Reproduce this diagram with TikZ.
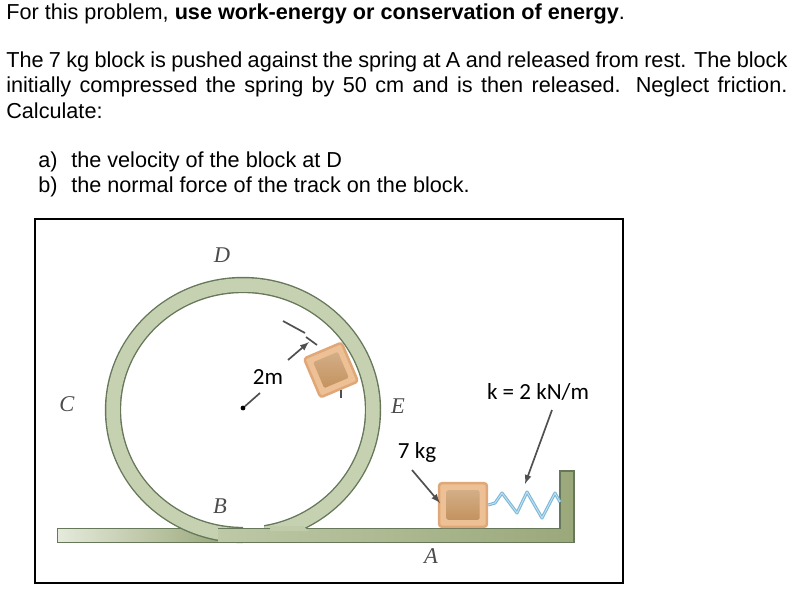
\documentclass[tikz,border=0pt]{standalone}
\usepackage{fontspec}
\setmainfont{Liberation Sans}
\newfontfamily\figfont{Liberation Serif}
\newfontfamily\notefont{Carlito}
\usepackage{tikz}
\definecolor{trackline}{HTML}{66775A}
\definecolor{trackfill}{HTML}{C6D1B2}
\definecolor{wallfill}{HTML}{9AA87A}
\definecolor{blockedge}{HTML}{E0A878}
\definecolor{blockring}{HTML}{EDC095}
\definecolor{blockcore}{HTML}{C4935F}
\definecolor{springblue}{HTML}{7DB9DA}
\definecolor{springpale}{HTML}{C9E2F0}
\definecolor{leader}{HTML}{505050}
\tikzset{
  prose/.style={anchor=base west,inner sep=0pt,font=\fontsize{15.4}{17.8}\selectfont},
  pointlabel/.style={inner sep=0pt,text=black!70,font=\figfont\itshape\fontsize{16}{16}\selectfont},
  notelabel/.style={inner sep=0pt,font=\notefont\fontsize{16.4}{16.4}\selectfont},
  blockouter/.style={draw=blockedge,line width=1.8pt,fill=blockring,rounded corners=2pt},
  blockinner/.style={top color=blockcore!75!white,bottom color=blockcore,rounded corners=1pt},
  leaderline/.style={leader,line width=1.2pt},
}
\begin{document}
\begin{tikzpicture}[x=0.025cm,y=-0.025cm]
\useasboundingbox (0,0) rectangle (804,604);
% problem text
\node[prose] (title) at (6,20) {For this problem, \textbf{use work-energy or conservation of energy}.};
\node[prose] (lineone) at (6,68) {\makebox[19.525cm][s]{The 7 kg block is pushed against the spring at A and released from rest. The block}};
\node[prose] (linetwo) at (6,93) {\makebox[19.525cm][s]{initially compressed the spring by 50 cm and is then released. Neglect friction.}};
\node[prose] (linethree) at (6,118) {Calculate:};
\node[prose] (parta) at (38,168) {a)};
\node[prose] (partatext) at (71,168) {the velocity of the block at D};
\node[prose] (partb) at (38,193) {b)};
\node[prose] (partbtext) at (71,193) {the normal force of the track on the block.};
% frame
\draw[line width=1.5pt] (35,219) rectangle (623,583);
% flat track, left end
\draw[trackline,line width=0.7pt,left color=trackfill!45!white,right color=wallfill] (57,528) rectangle (224,542);
% loop
\draw[trackline,line width=11.6pt] (243,535) arc[start angle=90,end angle=440,x radius=130,y radius=125];
\draw[trackfill,line width=9.6pt] (243,535) arc[start angle=90,end angle=440,x radius=130,y radius=125];
% flat track, right part and wall
\fill[left color=trackfill!80!wallfill,right color=wallfill] (218,528.5) -- (560,528.5) -- (560,471) -- (574,471) -- (574,542.5) -- (218,542.5) -- cycle;
\draw[trackline,line width=0.9pt] (218,528.5) -- (560,528.5) -- (560,471) -- (574,471) -- (574,542.5) -- (218,542.5);
\fill[trackfill!85!wallfill] (270,526) -- (303,526) -- (309,531) -- (270,531) -- cycle;
% top block
\node[blockouter,rotate=23,minimum width=29pt,minimum height=30pt] (topblock) at (331,370) {};
\node[blockinner,rotate=23,minimum width=19pt,minimum height=20pt] (topcore) at (topblock) {};
\coordinate (notchtop) at (341,390);
\coordinate (notchend) at (341,398);
\draw[leaderline] (notchtop) -- (notchend);
% bottom block
\node[blockouter,minimum width=34pt,minimum height=31pt] (block) at (463,505) {};
\node[blockinner,minimum width=23.5pt,minimum height=21pt] (blockcore) at (block) {};
% spring
\coordinate (springend) at (560,502);
\draw[springblue,line width=2.2pt,line join=round] (block.east) -- (495,503) -- (502,493) -- (517,513) -- (527,492) -- (542,518) -- (555,493) -- (springend);
\draw[springpale,line width=0.6pt,line join=round] (block.east) -- (495,503) -- (502,493) -- (517,513) -- (527,492) -- (542,518) -- (555,493) -- (springend);
% radius
\node[circle,fill=black,inner sep=1.2pt] (center) at (243,408) {};
\node[notelabel] (radius) at (268,377) {2m};
\coordinate (leaderend) at (260,393);
\draw[leaderline] (center) -- (leaderend);
\coordinate (dimtail) at (288,360);
\coordinate (dimtip) at (309,342);
\draw[>=latex,->,leaderline] (dimtail) -- (dimtip);
\coordinate (tickone) at (283,321);
\coordinate (ticktwo) at (305,333);
\draw[leaderline] (tickone) -- (ticktwo);
\coordinate (tickthree) at (306,337);
\coordinate (tickfour) at (317,345);
\draw[leaderline] (tickthree) -- (tickfour);
% point labels
\node[pointlabel] (D) at (222,255) {D};
\node[pointlabel] (C) at (67,404) {C};
\node[pointlabel] (E) at (398,406) {E};
\node[pointlabel] (B) at (220,506) {B};
\node[pointlabel] (A) at (431,556) {A};
% notes
\node[notelabel] (mass) at (417,452) {7 kg};
\node[notelabel] (stiffness) at (538,392) {k = 2 kN/m};
\coordinate (masstail) at (412,470);
\coordinate (masstip) at (440,503);
\draw[>=latex,->,leaderline] (masstail) -- (masstip);
\coordinate (stifftail) at (552,410);
\coordinate (stifftip) at (525,484);
\draw[>=latex,->,leaderline] (stifftail) -- (stifftip);
\end{tikzpicture}
\end{document}
